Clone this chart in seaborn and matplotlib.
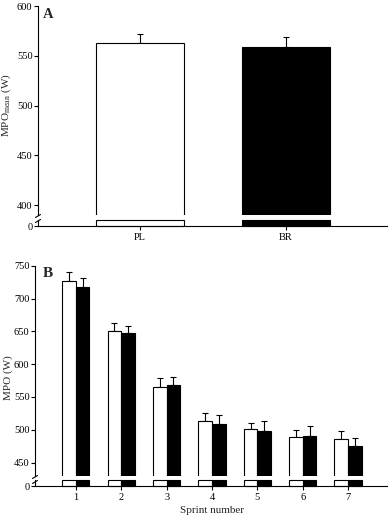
import numpy as np
import pandas as pd
import matplotlib
matplotlib.use("Agg")
import matplotlib.pyplot as plt
import seaborn as sns
from matplotlib.lines import Line2D

# ---------------- data ----------------
conditions = ["PL", "BR"]
mean_a = [562.5, 558.5]
sem_a = [9.0, 10.0]

sprints = ["1", "2", "3", "4", "5", "6", "7"]
pl_b = [726, 651, 565.5, 513.6, 501.4, 489.7, 486]
br_b = [717, 648, 567.5, 509, 497.4, 490.7, 474.5]
pl_b_sem = [15, 11.5, 13.5, 11.4, 8.2, 9.7, 12]
br_b_sem = [15, 9.5, 12.5, 13, 16.6, 14.3, 13.5]

colors = {"PL": "white", "BR": "black"}

sns.set_theme(style="ticks")
plt.rcParams["font.family"] = ["Liberation Serif", "DejaVu Serif"]
plt.rcParams["mathtext.fontset"] = "stix"

W, H = 388, 515
fig = plt.figure(figsize=(W / 100, H / 100), dpi=100)


def ax_px(x0, y_top, x1, y_bot):
    return fig.add_axes([x0 / W, 1 - y_bot / H, (x1 - x0) / W, (y_bot - y_top) / H])


def style(ax, bottom):
    sns.despine(ax=ax, top=True, right=True, bottom=not bottom)
    for s in ax.spines.values():
        s.set_linewidth(0.8)
        s.set_color("black")
    ax.tick_params(axis="y", length=3, width=0.8, labelsize=7.5, pad=1, colors="black")
    ax.tick_params(axis="x", length=3 if bottom else 0, width=0.8, labelsize=7.5, pad=2,
                   colors="black", labelbottom=bottom)
    ax.set_facecolor("white")


def add_errors(ax, sem, hue_order):
    for cont, err in zip(ax.containers, sem):
        xs = [p.get_x() + p.get_width() / 2 for p in cont]
        ys = [p.get_height() for p in cont]
        e = np.atleast_1d(err)
        ax.errorbar(xs, ys, yerr=[np.zeros(len(e)), e], fmt="none", ecolor="black",
                    elinewidth=0.8, capsize=2.5, capthick=0.8, zorder=1)


# ---------------- panel A ----------------
df_a = pd.DataFrame({"cond": conditions, "val": mean_a})
axA = ax_px(38, 6, 388, 215)
axA0 = ax_px(38, 220, 388, 226)
for ax in (axA, axA0):
    sns.barplot(data=df_a, x="cond", y="val", hue="cond", palette=colors, order=conditions,
                hue_order=conditions, legend=False, edgecolor="black", linewidth=0.8,
                width=0.6, errorbar=None, ax=ax, zorder=2)
    ax.set_xlim(-0.7, 1.7)
    ax.set_xlabel("")
    ax.set_ylabel("")
add_errors(axA, [[s] for s in sem_a], conditions)
axA.set_ylim(390, 600)
axA.set_yticks([400, 450, 500, 550, 600])
axA0.set_ylim(0, 10)
axA0.set_yticks([0])
for p in axA0.patches:
    p.set_height(10)
    p.set_clip_on(False)
style(axA, False)
style(axA0, True)
axA.set_ylabel("MPO$_{\\mathrm{mean}}$ (W)", fontsize=8)
axA.yaxis.set_label_coords(13.5 / W, 1 - 105 / H, transform=fig.transFigure)
fig.text(48.5 / W, 1 - 14 / H, "A", fontsize=10.5, fontweight="bold", ha="center", va="center")

# ---------------- panel B ----------------
df_b = pd.DataFrame({
    "sprint": sprints * 2,
    "cond": ["PL"] * len(sprints) + ["BR"] * len(sprints),
    "val": pl_b + br_b,
})
axB = ax_px(35, 265.7, 388, 475.7)
axB0 = ax_px(35, 480, 388, 486)
for ax in (axB, axB0):
    sns.barplot(data=df_b, x="sprint", y="val", hue="cond", palette=colors, order=sprints,
                hue_order=conditions, legend=False, edgecolor="black", linewidth=0.8,
                width=0.6, errorbar=None, ax=ax, zorder=2)
    ax.set_xlim(-0.9, 6.88)
    ax.set_xlabel("")
    ax.set_ylabel("")
add_errors(axB, [pl_b_sem, br_b_sem], conditions)
axB.set_ylim(430, 750)
axB.set_yticks([450, 500, 550, 600, 650, 700, 750])
axB0.set_ylim(0, 10)
axB0.set_yticks([0])
for p in axB0.patches:
    p.set_height(10)
    p.set_clip_on(False)
style(axB, False)
style(axB0, True)
axB.set_ylabel("MPO (W)", fontsize=8)
axB.yaxis.set_label_coords(13.5 / W, 1 - 378 / H, transform=fig.transFigure)
axB0.set_xlabel("Sprint number", fontsize=8, labelpad=3)
fig.text(47.5 / W, 1 - 273.5 / H, "B", fontsize=11, fontweight="bold", ha="center", va="center")

# ---------------- break marks ----------------
def brk(x, y_top_line, y_bot_line):
    for yy in (y_top_line, y_bot_line):
        fig.add_artist(Line2D([(x - 2.5) / W, (x + 2.5) / W],
                              [1 - (yy + 1.5) / H, 1 - (yy - 1.5) / H],
                              transform=fig.transFigure, color="black", lw=0.8))

brk(38, 216, 221)
brk(35, 477, 482)

fig.savefig("out.png", dpi=100, facecolor="white")
